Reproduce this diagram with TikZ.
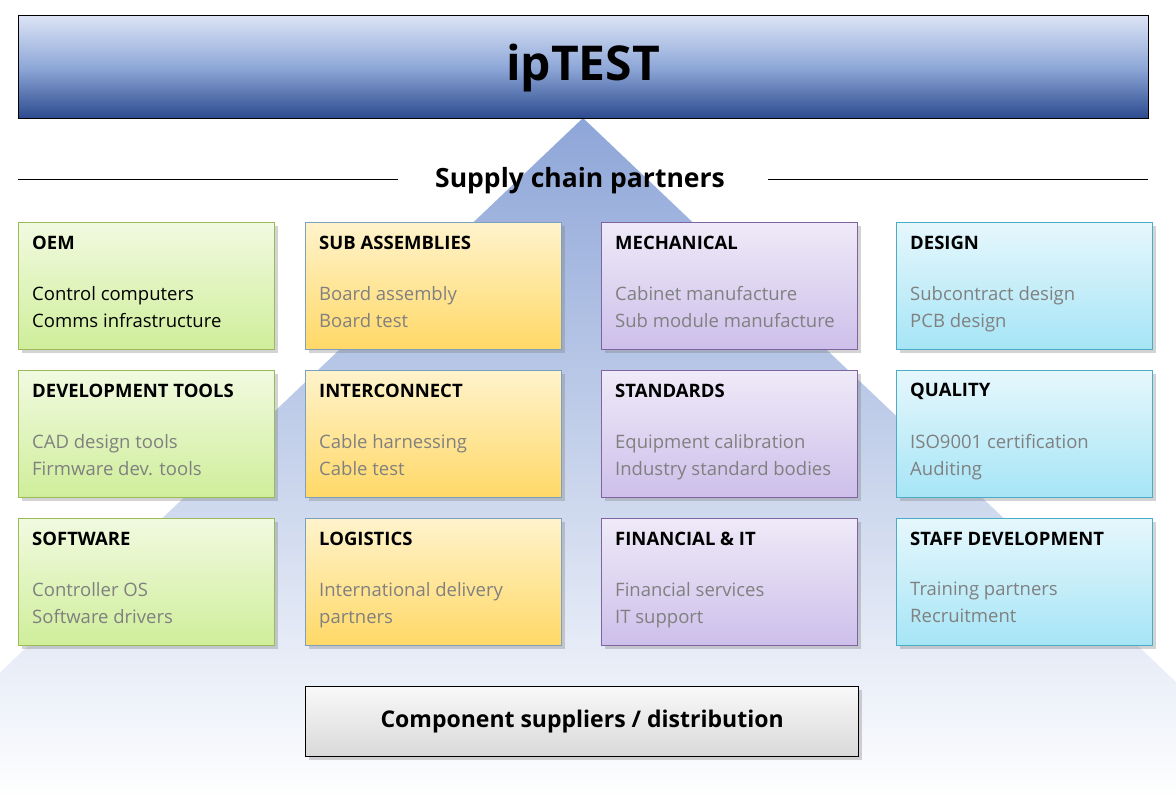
\documentclass[tikz,border=0pt]{standalone}
\usepackage{fontspec}
\setmainfont{Open Sans}
\usetikzlibrary{shadows}
\definecolor{gbd}{HTML}{9BBB59}\definecolor{obd}{HTML}{7F9FBF}
\definecolor{pbd}{HTML}{8064A2}\definecolor{cbd}{HTML}{4BACC6}
\definecolor{tri}{HTML}{8EA6D8}
\definecolor{bantop}{HTML}{DCE4F5}\definecolor{banmid}{HTML}{8FA8D8}\definecolor{banbot}{HTML}{2B4A8E}
\definecolor{gtop}{HTML}{F1FAE0}\definecolor{gbot}{HTML}{CFEE9A}
\definecolor{otop}{HTML}{FFF3CC}\definecolor{obot}{HTML}{FFD866}
\definecolor{ptop}{HTML}{EFEAF8}\definecolor{pbot}{HTML}{CDBFEA}
\definecolor{ctop}{HTML}{E6F7FC}\definecolor{cbot}{HTML}{A6E5F6}
\tikzset{
 cell/.style={draw, line width=1.2pt, minimum width=256pt, minimum height=127pt, anchor=north west, drop shadow={shadow xshift=3pt,shadow yshift=-3pt,opacity=0.35}},
 gcell/.style={cell, draw=gbd, top color=gtop, bottom color=gbot},
 ocell/.style={cell, draw=obd, top color=otop, bottom color=obot},
 pcell/.style={cell, draw=pbd, top color=ptop, bottom color=pbot},
 ccell/.style={cell, draw=cbd, top color=ctop, bottom color=cbot},
 head/.style={anchor=west, font=\fontsize{18.5}{22}\selectfont\bfseries, inner sep=0pt},
 body/.style={anchor=north west, font=\fontsize{18.5}{27}\selectfont, text=gray, align=left, inner sep=0pt},
}
\begin{document}
\begin{tikzpicture}[x=1pt,y=-1pt]
\useasboundingbox (0,0) rectangle (1176,797);
\begin{scope}
\clip (0,0) rectangle (1176,797);
\shade[top color=tri, bottom color=white] (583,118) -- (1300,800) -- (-134,800) -- cycle;
\end{scope}
\node[draw, line width=1.2pt, minimum width=1130pt, minimum height=103pt, anchor=north west, top color=bantop, bottom color=banbot, middle color=banmid, inner sep=0pt] (top) at (18,15) {};
\node[font=\fontsize{48}{52}\selectfont\bfseries] (title) at (583,68) {ipTEST};
\node[font=\fontsize{26.5}{30}\selectfont\bfseries] (sc) at (580,181) {Supply chain partners};
\draw[line width=1pt] (18,180) -- (398,180);
\draw[line width=1pt] (768,180) -- (1148,180);
\newcommand{\cellbox}[6]{%
 \node[#1] (#2) at (#3) {};
 \node[head] at ([xshift=14pt,yshift=-21pt]#2.north west) {#4};
 \node[body,#6] at ([xshift=14pt,yshift=-64pt]#2.north west) {#5};}
\cellbox{gcell}{b11}{18,222}{OEM}{Control computers\\Comms infrastructure}{text=black}
\cellbox{gcell}{b21}{18,370}{DEVELOPMENT TOOLS}{CAD design tools\\Firmware dev. tools}{}
\cellbox{gcell}{b31}{18,518}{SOFTWARE}{Controller OS\\Software drivers}{}
\cellbox{ocell}{b12}{305,222}{SUB ASSEMBLIES}{Board assembly\\Board test}{}
\cellbox{ocell}{b22}{305,370}{INTERCONNECT}{Cable harnessing\\Cable test}{}
\cellbox{ocell}{b32}{305,518}{LOGISTICS}{International delivery\\partners}{}
\cellbox{pcell}{b13}{601,222}{MECHANICAL}{Cabinet manufacture\\Sub module manufacture}{}
\cellbox{pcell}{b23}{601,370}{STANDARDS}{Equipment calibration\\Industry standard bodies}{}
\cellbox{pcell}{b33}{601,518}{FINANCIAL \& IT}{Financial services\\IT support}{}
\cellbox{ccell}{b14}{896,222}{DESIGN}{Subcontract design\\PCB design}{}
\cellbox{ccell}{b24}{896,370}{QUALITY}{ISO9001 certification\\Auditing}{}
\cellbox{ccell}{b34}{896,518}{STAFF DEVELOPMENT}{Training partners\\Recruitment}{}
\node[draw, line width=1.2pt, minimum width=553pt, minimum height=70pt, anchor=north west, top color=gray!5, bottom color=gray!30, drop shadow={shadow xshift=3pt,shadow yshift=-3pt,opacity=0.35}] (comp) at (305,686) {};
\node[font=\fontsize{23}{26}\selectfont\bfseries] at (comp.center) {Component suppliers / distribution};
\end{tikzpicture}
\end{document}
